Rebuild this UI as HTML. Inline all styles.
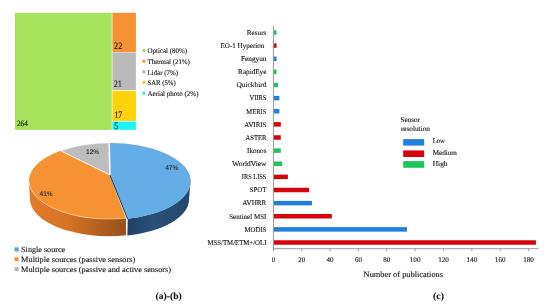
<!DOCTYPE html>
<html><head><meta charset="utf-8"><title>Figure</title>
<style>
html,body{margin:0;padding:0;background:#fff;}
svg{display:block}
text{font-family:"Liberation Serif","DejaVu Serif",serif;fill:#151515;stroke:#151515;stroke-width:0.12px;text-rendering:geometricPrecision}
.s7{font-size:7.1px}
.s8{font-size:9.8px}
.s8b{font-size:8.1px}
.lg{font-size:7.2px}
.lg2{font-size:7.9px}
.ax{font-size:8.2px}
.pl{font-family:"Liberation Sans",sans-serif;font-size:6.8px;font-weight:bold;fill:#3a3a3a;stroke:none}
.cap{font-size:9.5px;font-weight:bold;fill:#111;stroke-width:0.1px}
</style></head><body>
<svg width="550" height="307" viewBox="0 0 550 307">
<defs>
<linearGradient id="og" gradientUnits="userSpaceOnUse" x1="29" x2="127" y1="0" y2="0"><stop offset="0" stop-color="#e27c2b"/><stop offset="0.4" stop-color="#d57325"/><stop offset="0.75" stop-color="#b05c1d"/><stop offset="1" stop-color="#98501a"/></linearGradient>
<linearGradient id="bg" gradientUnits="userSpaceOnUse" x1="127" x2="191" y1="0" y2="0"><stop offset="0" stop-color="#203f60"/><stop offset="0.4" stop-color="#29507a"/><stop offset="1" stop-color="#24476a"/></linearGradient>
</defs>
<rect width="550" height="307" fill="#fff"/>
<!-- treemap -->
<rect x="15" y="12.8" width="96.8" height="117" fill="#a7e25c"/>
<rect x="112.4" y="12.8" width="23.5" height="39.4" fill="#f79234"/>
<rect x="112.4" y="52.5" width="23.5" height="37.5" fill="#bababa"/>
<rect x="112.4" y="90.8" width="23.5" height="30.1" fill="#ffd10a"/>
<rect x="112.4" y="121.5" width="23.5" height="8.3" fill="#1cf3fb"/>
<text x="114.1" y="48.6" class="s8" textLength="8.2" lengthAdjust="spacingAndGlyphs">22</text>
<text x="114.1" y="86.6" class="s8" textLength="7.6" lengthAdjust="spacingAndGlyphs">21</text>
<text x="114.4" y="117.5" class="s8" textLength="7.9" lengthAdjust="spacingAndGlyphs">17</text>
<text x="114.3" y="128.7" class="s8" textLength="3.9" lengthAdjust="spacingAndGlyphs">5</text>
<text x="17" y="126.4" class="s8b" textLength="10.7" lengthAdjust="spacingAndGlyphs">264</text>
<rect x="142.5" y="49" width="2.9" height="2.9" fill="#a0e04c"/><text x="147.5" y="53.2" class="lg" textLength="39.5" lengthAdjust="spacingAndGlyphs">Optical (80%)</text>
<rect x="142.5" y="59.8" width="2.9" height="2.9" fill="#f79234"/><text x="147.5" y="63.9" class="lg" textLength="42.4" lengthAdjust="spacingAndGlyphs">Thermal (21%)</text>
<rect x="142.5" y="70.3" width="2.9" height="2.9" fill="#b4b4b4"/><text x="147.5" y="74.5" class="lg" textLength="30.6" lengthAdjust="spacingAndGlyphs">Lidar (7%)</text>
<rect x="142.5" y="80.9" width="2.9" height="2.9" fill="#ffd10a"/><text x="147.5" y="85.0" class="lg" textLength="28.2" lengthAdjust="spacingAndGlyphs">SAR (5%)</text>
<rect x="142.5" y="91.6" width="2.9" height="2.9" fill="#1cf3fb"/><text x="147.5" y="95.7" class="lg" textLength="51.0" lengthAdjust="spacingAndGlyphs">Aerial photo (2%)</text>
<!-- pie -->
<g>
<path d="M29.00 181.0A80.4 38.1 0 0 0 125.90 218.29L126.10 235.37A79.5 37.4 0 0 1 29.90 198.8Z" fill="url(#og)"/>
<path d="M190.40 181.3A80.3 38.3 0 0 1 127.70 218.67L127.40 235.59A79.0 37.3 0 0 0 189.10 199.2Z" fill="url(#bg)"/>
<path d="M109.40 174.70L60.50 150.76A80.4 38.1 0 0 1 108.70 142.90Z" fill="#bdbdbd" stroke="#fff" stroke-width="0.5" stroke-linejoin="round"/>
<path d="M109.40 174.70L125.90 218.29A80.4 38.1 0 0 1 60.50 150.76Z" fill="#f79234"/>
<path d="M109.40 174.70L60.50 150.76" stroke="#fff" stroke-width="0.7" fill="none"/>
<path d="M29.30 182.0A80.4 38.1 0 0 0 125.90 218.29" fill="none" stroke="#fbd0a8" stroke-width="0.6"/>
<path d="M110.20 175.30L127.70 218.67" stroke="#1f3f60" stroke-width="1.4" fill="none"/>
<path d="M110.70 175.3L128.10 218.67A80.3 38.3 0 0 0 110.00 143.00Z" fill="#64ade7"/>

<text x="86" y="153.8" class="pl" textLength="13.1" lengthAdjust="spacingAndGlyphs">12%</text>
<text x="165.2" y="170.2" class="pl" textLength="13.1" lengthAdjust="spacingAndGlyphs">47%</text>
<text x="39.6" y="195.5" class="pl" textLength="13.1" lengthAdjust="spacingAndGlyphs">41%</text>
</g>
<rect x="14.6" y="247.4" width="4" height="4" fill="#4e9fe0"/><text x="21.1" y="251.8" class="lg2" textLength="44.1" lengthAdjust="spacingAndGlyphs">Single source</text>
<rect x="14.6" y="257.3" width="4" height="4" fill="#f79234"/><text x="21.1" y="261.8" class="lg2" textLength="114.2" lengthAdjust="spacingAndGlyphs">Multiple sources (passive sensors)</text>
<rect x="14.6" y="267.0" width="4" height="4" fill="#b5b5b5"/><text x="21.1" y="271.6" class="lg2" textLength="150" lengthAdjust="spacingAndGlyphs">Multiple sources (passive and active sensors)</text>
<text x="155.6" y="299.4" class="cap" textLength="26.2" lengthAdjust="spacingAndGlyphs">(a)-(b)</text>
<text x="433" y="299.4" class="cap" textLength="11" lengthAdjust="spacingAndGlyphs">(c)</text>
<!-- bars -->
<rect x="273.7" y="30.25" width="2.83" height="4.5" fill="#1fc45a"/>
<text x="246.70" y="34.80" class="s7" textLength="19.7" lengthAdjust="spacingAndGlyphs">Resurs</text>
<rect x="273.7" y="43.38" width="2.83" height="4.5" fill="#d6040c"/>
<text x="220.50" y="47.92" class="s7" textLength="43.8" lengthAdjust="spacingAndGlyphs">EO-1 Hyperion</text>
<rect x="273.7" y="56.50" width="2.83" height="4.5" fill="#1f80dc"/>
<text x="241.00" y="61.05" class="s7" textLength="25.4" lengthAdjust="spacingAndGlyphs">Fengyun</text>
<rect x="273.7" y="69.62" width="2.83" height="4.5" fill="#1fc45a"/>
<text x="238.10" y="74.17" class="s7" textLength="28.3" lengthAdjust="spacingAndGlyphs">RapidEye</text>
<rect x="273.7" y="82.75" width="4.25" height="4.5" fill="#1fc45a"/>
<text x="236.40" y="87.30" class="s7" textLength="30.0" lengthAdjust="spacingAndGlyphs">Quickbird</text>
<rect x="273.7" y="95.88" width="5.67" height="4.5" fill="#1f80dc"/>
<text x="249.50" y="100.42" class="s7" textLength="16.9" lengthAdjust="spacingAndGlyphs">VIIRS</text>
<rect x="273.7" y="109.00" width="5.67" height="4.5" fill="#1f80dc"/>
<text x="246.30" y="113.55" class="s7" textLength="20.1" lengthAdjust="spacingAndGlyphs">MERIS</text>
<rect x="273.7" y="122.12" width="7.09" height="4.5" fill="#d6040c"/>
<text x="244.30" y="126.67" class="s7" textLength="22.1" lengthAdjust="spacingAndGlyphs">AVIRIS</text>
<rect x="273.7" y="135.25" width="7.09" height="4.5" fill="#d6040c"/>
<text x="245.60" y="139.80" class="s7" textLength="20.8" lengthAdjust="spacingAndGlyphs">ASTER</text>
<rect x="273.7" y="148.38" width="7.09" height="4.5" fill="#1fc45a"/>
<text x="247.10" y="152.93" class="s7" textLength="19.3" lengthAdjust="spacingAndGlyphs">Ikonos</text>
<rect x="273.7" y="161.50" width="8.50" height="4.5" fill="#1fc45a"/>
<text x="232.30" y="166.05" class="s7" textLength="34.1" lengthAdjust="spacingAndGlyphs">WorldView</text>
<rect x="273.7" y="174.62" width="14.18" height="4.5" fill="#d6040c"/>
<text x="241.80" y="179.18" class="s7" textLength="24.6" lengthAdjust="spacingAndGlyphs">IRS LISS</text>
<rect x="273.7" y="187.75" width="35.44" height="4.5" fill="#d6040c"/>
<text x="249.70" y="192.30" class="s7" textLength="16.7" lengthAdjust="spacingAndGlyphs">SPOT</text>
<rect x="273.7" y="200.88" width="38.27" height="4.5" fill="#1f80dc"/>
<text x="242.30" y="205.43" class="s7" textLength="24.1" lengthAdjust="spacingAndGlyphs">AVHRR</text>
<rect x="273.7" y="214.00" width="58.12" height="4.5" fill="#d6040c"/>
<text x="229.20" y="218.55" class="s7" textLength="37.2" lengthAdjust="spacingAndGlyphs">Sentinel MSI</text>
<rect x="273.7" y="227.12" width="133.25" height="4.5" fill="#1f80dc"/>
<text x="244.40" y="231.68" class="s7" textLength="22.0" lengthAdjust="spacingAndGlyphs">MODIS</text>
<rect x="273.7" y="240.25" width="262.24" height="4.5" fill="#d6040c"/>
<text x="207.50" y="244.80" class="s7" textLength="58.9" lengthAdjust="spacingAndGlyphs">MSS/TM/ETM+/OLI</text>
<path d="M273.4 26.1V251.2" stroke="#8e8e8e" stroke-width="0.9" fill="none"/>
<path d="M273.4 248.7H538.5" stroke="#8e8e8e" stroke-width="0.9" fill="none"/>
<text x="271.65" y="261.6" class="s7" textLength="3.5" lengthAdjust="spacingAndGlyphs">0</text>
<path d="M301.75 248.7V251.2" stroke="#8e8e8e" stroke-width="0.8"/>
<text x="298.25" y="261.6" class="s7" textLength="7.0" lengthAdjust="spacingAndGlyphs">20</text>
<path d="M330.10 248.7V251.2" stroke="#8e8e8e" stroke-width="0.8"/>
<text x="326.60" y="261.6" class="s7" textLength="7.0" lengthAdjust="spacingAndGlyphs">40</text>
<path d="M358.45 248.7V251.2" stroke="#8e8e8e" stroke-width="0.8"/>
<text x="354.95" y="261.6" class="s7" textLength="7.0" lengthAdjust="spacingAndGlyphs">60</text>
<path d="M386.80 248.7V251.2" stroke="#8e8e8e" stroke-width="0.8"/>
<text x="383.30" y="261.6" class="s7" textLength="7.0" lengthAdjust="spacingAndGlyphs">80</text>
<path d="M415.15 248.7V251.2" stroke="#8e8e8e" stroke-width="0.8"/>
<text x="409.80" y="261.6" class="s7" textLength="10.7" lengthAdjust="spacingAndGlyphs">100</text>
<path d="M443.50 248.7V251.2" stroke="#8e8e8e" stroke-width="0.8"/>
<text x="438.15" y="261.6" class="s7" textLength="10.7" lengthAdjust="spacingAndGlyphs">120</text>
<path d="M471.85 248.7V251.2" stroke="#8e8e8e" stroke-width="0.8"/>
<text x="466.50" y="261.6" class="s7" textLength="10.7" lengthAdjust="spacingAndGlyphs">140</text>
<path d="M500.20 248.7V251.2" stroke="#8e8e8e" stroke-width="0.8"/>
<text x="494.85" y="261.6" class="s7" textLength="10.7" lengthAdjust="spacingAndGlyphs">160</text>
<path d="M528.55 248.7V251.2" stroke="#8e8e8e" stroke-width="0.8"/>
<text x="523.20" y="261.6" class="s7" textLength="10.7" lengthAdjust="spacingAndGlyphs">180</text>
<text x="363.6" y="277" class="ax" textLength="79.4" lengthAdjust="spacingAndGlyphs">Number of publications</text>
<text x="400.5" y="122" class="s7" textLength="19.3" lengthAdjust="spacingAndGlyphs">Sensor</text>
<text x="400.9" y="130.5" class="s7" textLength="29" lengthAdjust="spacingAndGlyphs">resolution</text>
<rect x="403.2" y="139.1" width="21" height="6.5" fill="#1f80dc"/><text x="432.7" y="142.7" class="s7" textLength="12" lengthAdjust="spacingAndGlyphs">Low</text>
<rect x="403.2" y="150.4" width="21" height="6.6" fill="#d6040c"/><text x="432.7" y="154.5" class="s7" textLength="24.2" lengthAdjust="spacingAndGlyphs">Medium</text>
<rect x="403.2" y="161.1" width="21" height="6.7" fill="#1fc45a"/><text x="432.7" y="165.9" class="s7" textLength="14.9" lengthAdjust="spacingAndGlyphs">High</text>
</svg>
</body></html>
